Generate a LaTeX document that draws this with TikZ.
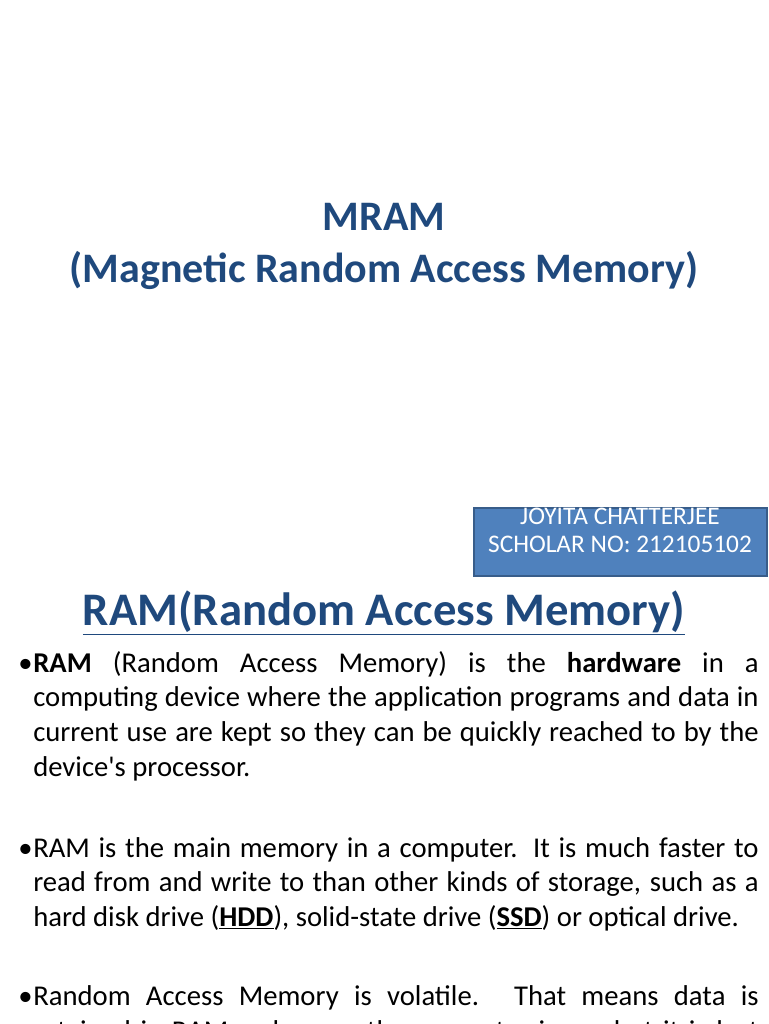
\documentclass[tikz,border=0pt]{standalone}
\usepackage{fontspec}
\setmainfont{Carlito}
\definecolor{ttl}{HTML}{1F497D}
\definecolor{boxf}{HTML}{4F81BD}
\definecolor{boxd}{HTML}{385D8A}
\begin{document}
\begin{tikzpicture}[x=0.75pt,y=-0.75pt,
  ln/.style={anchor=base west,inner sep=0pt,font=\fontsize{21.5}{26}\selectfont},
  bul/.style={anchor=base west,inner sep=0pt,font=\fontsize{21.5}{26}\selectfont}]
\path[use as bounding box] (0,0) rectangle (768,1024);
\clip (0,0) rectangle (768,1024);
\fill[white] (0,0) rectangle (768,1024);
\node[anchor=base,font=\bfseries\fontsize{31.5}{36}\selectfont,text=ttl,inner sep=0pt] (t1) at (384,230) {MRAM};
\node[anchor=base,font=\bfseries\fontsize{31.5}{36}\selectfont,text=ttl,inner sep=0pt] (t2) at (384,282) {(Magnetic Random Access Memory)};
\draw[fill=boxf,draw=boxd,line width=0.8pt] (474,508) rectangle (767,576);
\node[anchor=base,text=white,font=\fontsize{19}{22}\selectfont,inner sep=0pt] (n1) at (620,524) {JOYITA CHATTERJEE};
\node[anchor=base,text=white,font=\fontsize{19}{22}\selectfont,inner sep=0pt] (n2) at (620,552) {SCHOLAR NO: 212105102};
\node[anchor=base,font=\bfseries\fontsize{35}{40}\selectfont,text=ttl,inner sep=0pt] (h) at (384,625) {\underline{RAM(Random Access Memory)}};
\def\W{\makebox[544pt][s]}
\node[bul] (b1) at (18,672) {\textbullet};
\node[ln] (l1) at (33,672) {\W{\textbf{RAM} (Random Access Memory) is the \textbf{hardware} in a}};
\node[ln] (l2) at (33,706) {\W{computing device where the application programs and data in}};
\node[ln] (l3) at (33,741) {\W{current use are kept so they can be quickly reached to by the}};
\node[ln] (l4) at (33,776) {device\textquotesingle s processor.};
\node[bul] (b2) at (18,857) {\textbullet};
\node[ln] (l5) at (33,857) {\W{RAM is the main memory in a computer. It is much faster to}};
\node[ln] (l6) at (33,891) {\W{read from and write to than other kinds of storage, such as a}};
\node[ln] (l7) at (33,926) {hard disk drive (\textbf{\underline{HDD}}), solid-state drive (\textbf{\underline{SSD}}) or optical drive.};
\node[bul] (b3) at (18,1005) {\textbullet};
\node[ln] (l8) at (33,1005) {\W{Random Access Memory is volatile. That means data is}};
\node[ln] (l9) at (33,1040) {\W{retained in RAM as long as the computer is on, but it is lost}};
\end{tikzpicture}
\end{document}
